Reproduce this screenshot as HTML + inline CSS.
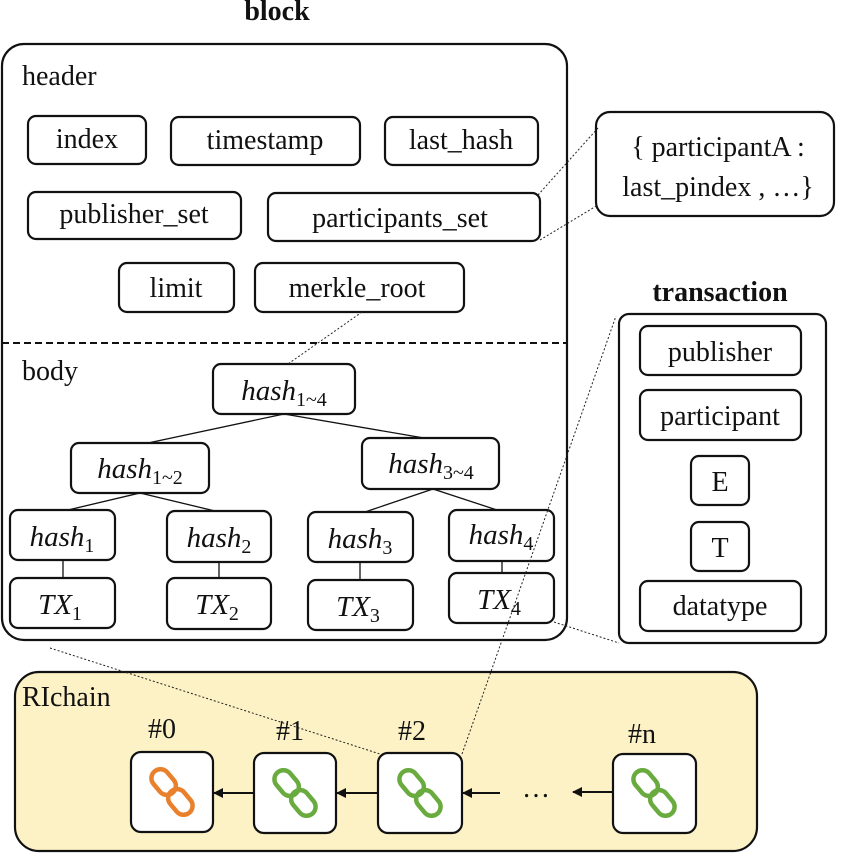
<!DOCTYPE html>
<html><head><meta charset="utf-8"><style>
html,body{margin:0;padding:0;background:#fff}
svg, svg text{font-family:"Liberation Serif","DejaVu Serif",serif}
svg text{fill:#111}
.b{fill:#fff;stroke:#111;stroke-width:2.2}
.t{font-size:28px;text-anchor:middle}
.h{font-size:29px;font-style:italic;text-anchor:middle}
.s{font-size:20px;font-style:normal}
.d{stroke:#222;stroke-width:1;stroke-dasharray:2 2;fill:none}
.l{stroke:#111;stroke-width:1.3}
</style></head><body>
<svg width="848" height="853" viewBox="0 0 848 853" xmlns="http://www.w3.org/2000/svg" font-family="Liberation Serif, serif">
<defs>
<g id="chain">
<g transform="rotate(-40)">
<rect x="-9" y="-27" width="18" height="28" rx="9" fill="none" stroke-width="4.5"/>
<rect x="-9" y="-1" width="18" height="28" rx="9" fill="none" stroke-width="4.5"/>
</g>
</g>
<marker id="ah" markerWidth="10" markerHeight="10" refX="9" refY="5" orient="auto" markerUnits="userSpaceOnUse">
<path d="M0,0 L10,5 L0,10 z" fill="#111"/></marker>
</defs>

<text x="277" y="20" font-family="Liberation Serif, serif" style="font-size:28px;font-weight:bold" text-anchor="middle">block</text>
<rect x="2" y="44" width="565" height="596" rx="22" class="b"/>
<line x1="2" y1="343" x2="567" y2="343" stroke="#111" stroke-width="2" stroke-dasharray="7 4"/>
<text x="22" y="85" font-family="Liberation Serif, serif" style="font-size:28px">header</text>
<text x="22" y="380" font-family="Liberation Serif, serif" style="font-size:28px">body</text>

<g font-family="Liberation Serif, serif">
<rect x="28" y="116" width="118" height="48" rx="8" class="b"/><text x="87" y="148" class="t">index</text>
<rect x="171" y="117" width="189" height="48" rx="8" class="b"/><text x="265" y="149" class="t">timestamp</text>
<rect x="385" y="117" width="153" height="48" rx="8" class="b"/><text x="461" y="149" class="t">last_hash</text>
<rect x="28" y="192" width="213" height="47" rx="8" class="b"/><text x="134" y="223" class="t">publisher_set</text>
<rect x="268" y="193" width="272" height="48" rx="8" class="b"/><text x="400" y="227" class="t">participants_set</text>
<rect x="119" y="263" width="115" height="49" rx="8" class="b"/><text x="176" y="297" class="t">limit</text>
<rect x="255" y="263" width="209" height="49" rx="8" class="b"/><text x="357" y="297" class="t">merkle_root</text>

<rect x="596" y="112" width="238" height="104" rx="14" class="b"/>
<text x="718" y="156" class="t">{ participantA :</text>
<text x="718" y="196" class="t">last_pindex , …}</text>
</g>
<line x1="538" y1="195" x2="598" y2="128" class="d"/>
<line x1="540" y1="240" x2="598" y2="205" class="d"/>

<line x1="284" y1="414" x2="148" y2="443" class="l"/>
<line x1="284" y1="414" x2="424" y2="438" class="l"/>
<line x1="140" y1="493" x2="68" y2="510" class="l"/>
<line x1="140" y1="493" x2="215" y2="511" class="l"/>
<line x1="433" y1="489" x2="365" y2="512" class="l"/>
<line x1="433" y1="489" x2="497" y2="510" class="l"/>
<line x1="63" y1="560" x2="63" y2="578" class="l"/>
<line x1="219" y1="562" x2="219" y2="578" class="l"/>
<line x1="360" y1="562" x2="360" y2="580" class="l"/>
<line x1="502" y1="561" x2="502" y2="573" class="l"/>

<g font-family="Liberation Serif, serif">
<rect x="213" y="364" width="142" height="50" rx="8" class="b"/><text x="284" y="400" class="h">hash<tspan class="s" dy="6">1~4</tspan></text>
<rect x="71" y="443" width="138" height="50" rx="8" class="b"/><text x="140" y="478" class="h">hash<tspan class="s" dy="6">1~2</tspan></text>
<rect x="362" y="438" width="137" height="51" rx="8" class="b"/><text x="431" y="473" class="h">hash<tspan class="s" dy="6">3~4</tspan></text>
<rect x="10" y="510" width="105" height="50" rx="8" class="b"/><text x="62" y="546" class="h">hash<tspan class="s" dy="6">1</tspan></text>
<rect x="167" y="511" width="104" height="51" rx="8" class="b"/><text x="219" y="547" class="h">hash<tspan class="s" dy="6">2</tspan></text>
<rect x="308" y="512" width="105" height="50" rx="8" class="b"/><text x="360" y="548" class="h">hash<tspan class="s" dy="6">3</tspan></text>
<rect x="449" y="510" width="105" height="51" rx="8" class="b"/><text x="501" y="544" class="h">hash<tspan class="s" dy="6">4</tspan></text>
<rect x="10" y="578" width="105" height="50" rx="8" class="b"/><text x="60" y="614" class="h">TX<tspan class="s" dy="6">1</tspan></text>
<rect x="167" y="578" width="104" height="51" rx="8" class="b"/><text x="217" y="614" class="h">TX<tspan class="s" dy="6">2</tspan></text>
<rect x="308" y="580" width="105" height="50" rx="8" class="b"/><text x="358" y="616" class="h">TX<tspan class="s" dy="6">3</tspan></text>
<rect x="449" y="573" width="105" height="50" rx="8" class="b"/><text x="499" y="609" class="h">TX<tspan class="s" dy="6">4</tspan></text>
</g>

<line x1="362" y1="312" x2="288" y2="364" class="d"/>

<g font-family="Liberation Serif, serif">
<text x="720" y="301" style="font-size:28px;font-weight:bold" text-anchor="middle">transaction</text>
<rect x="619" y="314" width="207" height="329" rx="10" class="b"/>
<rect x="640" y="326" width="161" height="49" rx="8" class="b"/><text x="720" y="361" class="t">publisher</text>
<rect x="640" y="390" width="161" height="50" rx="8" class="b"/><text x="720" y="425" class="t">participant</text>
<rect x="691" y="456" width="58" height="49" rx="8" class="b"/><text x="720" y="491" class="t">E</text>
<rect x="691" y="522" width="58" height="49" rx="8" class="b"/><text x="720" y="557" class="t">T</text>
<rect x="640" y="581" width="161" height="50" rx="8" class="b"/><text x="720" y="615" class="t">datatype</text>
</g>
<line x1="554" y1="622" x2="619" y2="643" class="d"/>

<rect x="15" y="672" width="742" height="179" rx="24" fill="#fdf2c6" stroke="#111" stroke-width="2.2"/>
<line x1="50" y1="648" x2="380" y2="754" class="d"/>
<line x1="462" y1="754" x2="616" y2="316" class="d"/>
<g font-family="Liberation Serif, serif">
<text x="22" y="706" style="font-size:28px">RIchain</text>
<text x="162" y="738" class="t">#0</text>
<text x="290" y="740" class="t">#1</text>
<text x="412" y="740" class="t">#2</text>
<text x="642" y="743" class="t">#n</text>
</g>
<rect x="131" y="752" width="82" height="80" rx="10" class="b"/>
<rect x="254" y="753" width="82" height="80" rx="10" class="b"/>
<rect x="378" y="753" width="84" height="80" rx="10" class="b"/>
<rect x="613" y="754" width="83" height="79" rx="10" class="b"/>
<use href="#chain" x="172" y="792" stroke="#e8802c"/>
<use href="#chain" x="295" y="793" stroke="#6aab3f"/>
<use href="#chain" x="420" y="793" stroke="#6aab3f"/>
<use href="#chain" x="654" y="793" stroke="#6aab3f"/>
<line x1="254" y1="793" x2="214" y2="793" stroke="#111" stroke-width="2" marker-end="url(#ah)"/>
<line x1="378" y1="793" x2="337" y2="793" stroke="#111" stroke-width="2" marker-end="url(#ah)"/>
<line x1="500" y1="793" x2="463" y2="793" stroke="#111" stroke-width="2" marker-end="url(#ah)"/>
<line x1="613" y1="792" x2="573" y2="792" stroke="#111" stroke-width="2" marker-end="url(#ah)"/>
<text x="536" y="797" font-family="Liberation Serif, serif" class="t">…</text>
</svg>
</body></html>
